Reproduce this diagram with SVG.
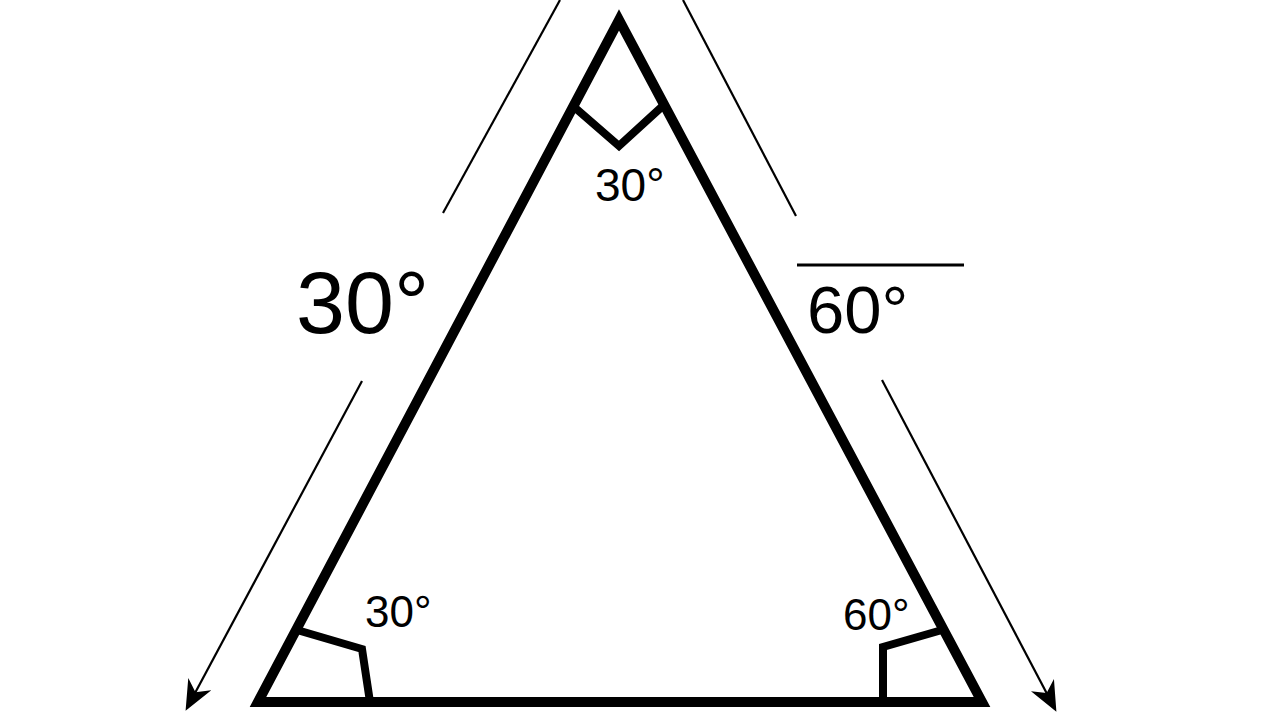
<svg xmlns="http://www.w3.org/2000/svg" width="1280" height="720" viewBox="0 0 1280 720">
<style>
.tri{fill:none;stroke:#000;stroke-width:10;stroke-linejoin:miter}
.mk{fill:none;stroke:#000;stroke-width:8;stroke-linejoin:miter}
.ln{fill:none;stroke:#000;stroke-width:2.2}
.t{font-family:"Liberation Sans",Arial,sans-serif;fill:#000}
</style>
<defs>
<marker id="ah" viewBox="0 0 10 10" refX="9" refY="5" markerWidth="30" markerHeight="26" markerUnits="userSpaceOnUse" orient="auto" preserveAspectRatio="none">
<path d="M0,0 L10,5 L0,10 L3,5 z" fill="#000"/>
</marker>
</defs>
<rect width="1280" height="720" fill="#fff"/>
<g id="triangle">
<polygon class="tri" points="619,20 258,702 982,702"/>
</g>
<g id="angle-markers">
<polyline class="mk" points="573,106 619,146 666,103"/>
<polyline class="mk" points="297,630 362,649 370,702"/>
<polyline class="mk" points="942,630 883,647 883,702"/>
</g>
<g id="connectors">
<line class="ln" x1="443" y1="213" x2="560" y2="0"/>
<line class="ln" x1="362" y1="381" x2="187" y2="708" marker-end="url(#ah)"/>
<line class="ln" x1="683" y1="0" x2="796" y2="216"/>
<line class="ln" x1="882" y1="380" x2="1055" y2="709" marker-end="url(#ah)"/>
<line class="ln" x1="797" y1="265" x2="964" y2="265" style="stroke-width:3"/>
</g>
<g id="labels">
<text class="t" x="296" y="333" font-size="88">30°</text>
<text class="t" x="807" y="333" font-size="67">60°</text>
<text class="t" x="595" y="201" font-size="46">30°</text>
<text class="t" x="365" y="627" font-size="44">30°</text>
<text class="t" x="843" y="630" font-size="44">60°</text>
</g>
</svg>
